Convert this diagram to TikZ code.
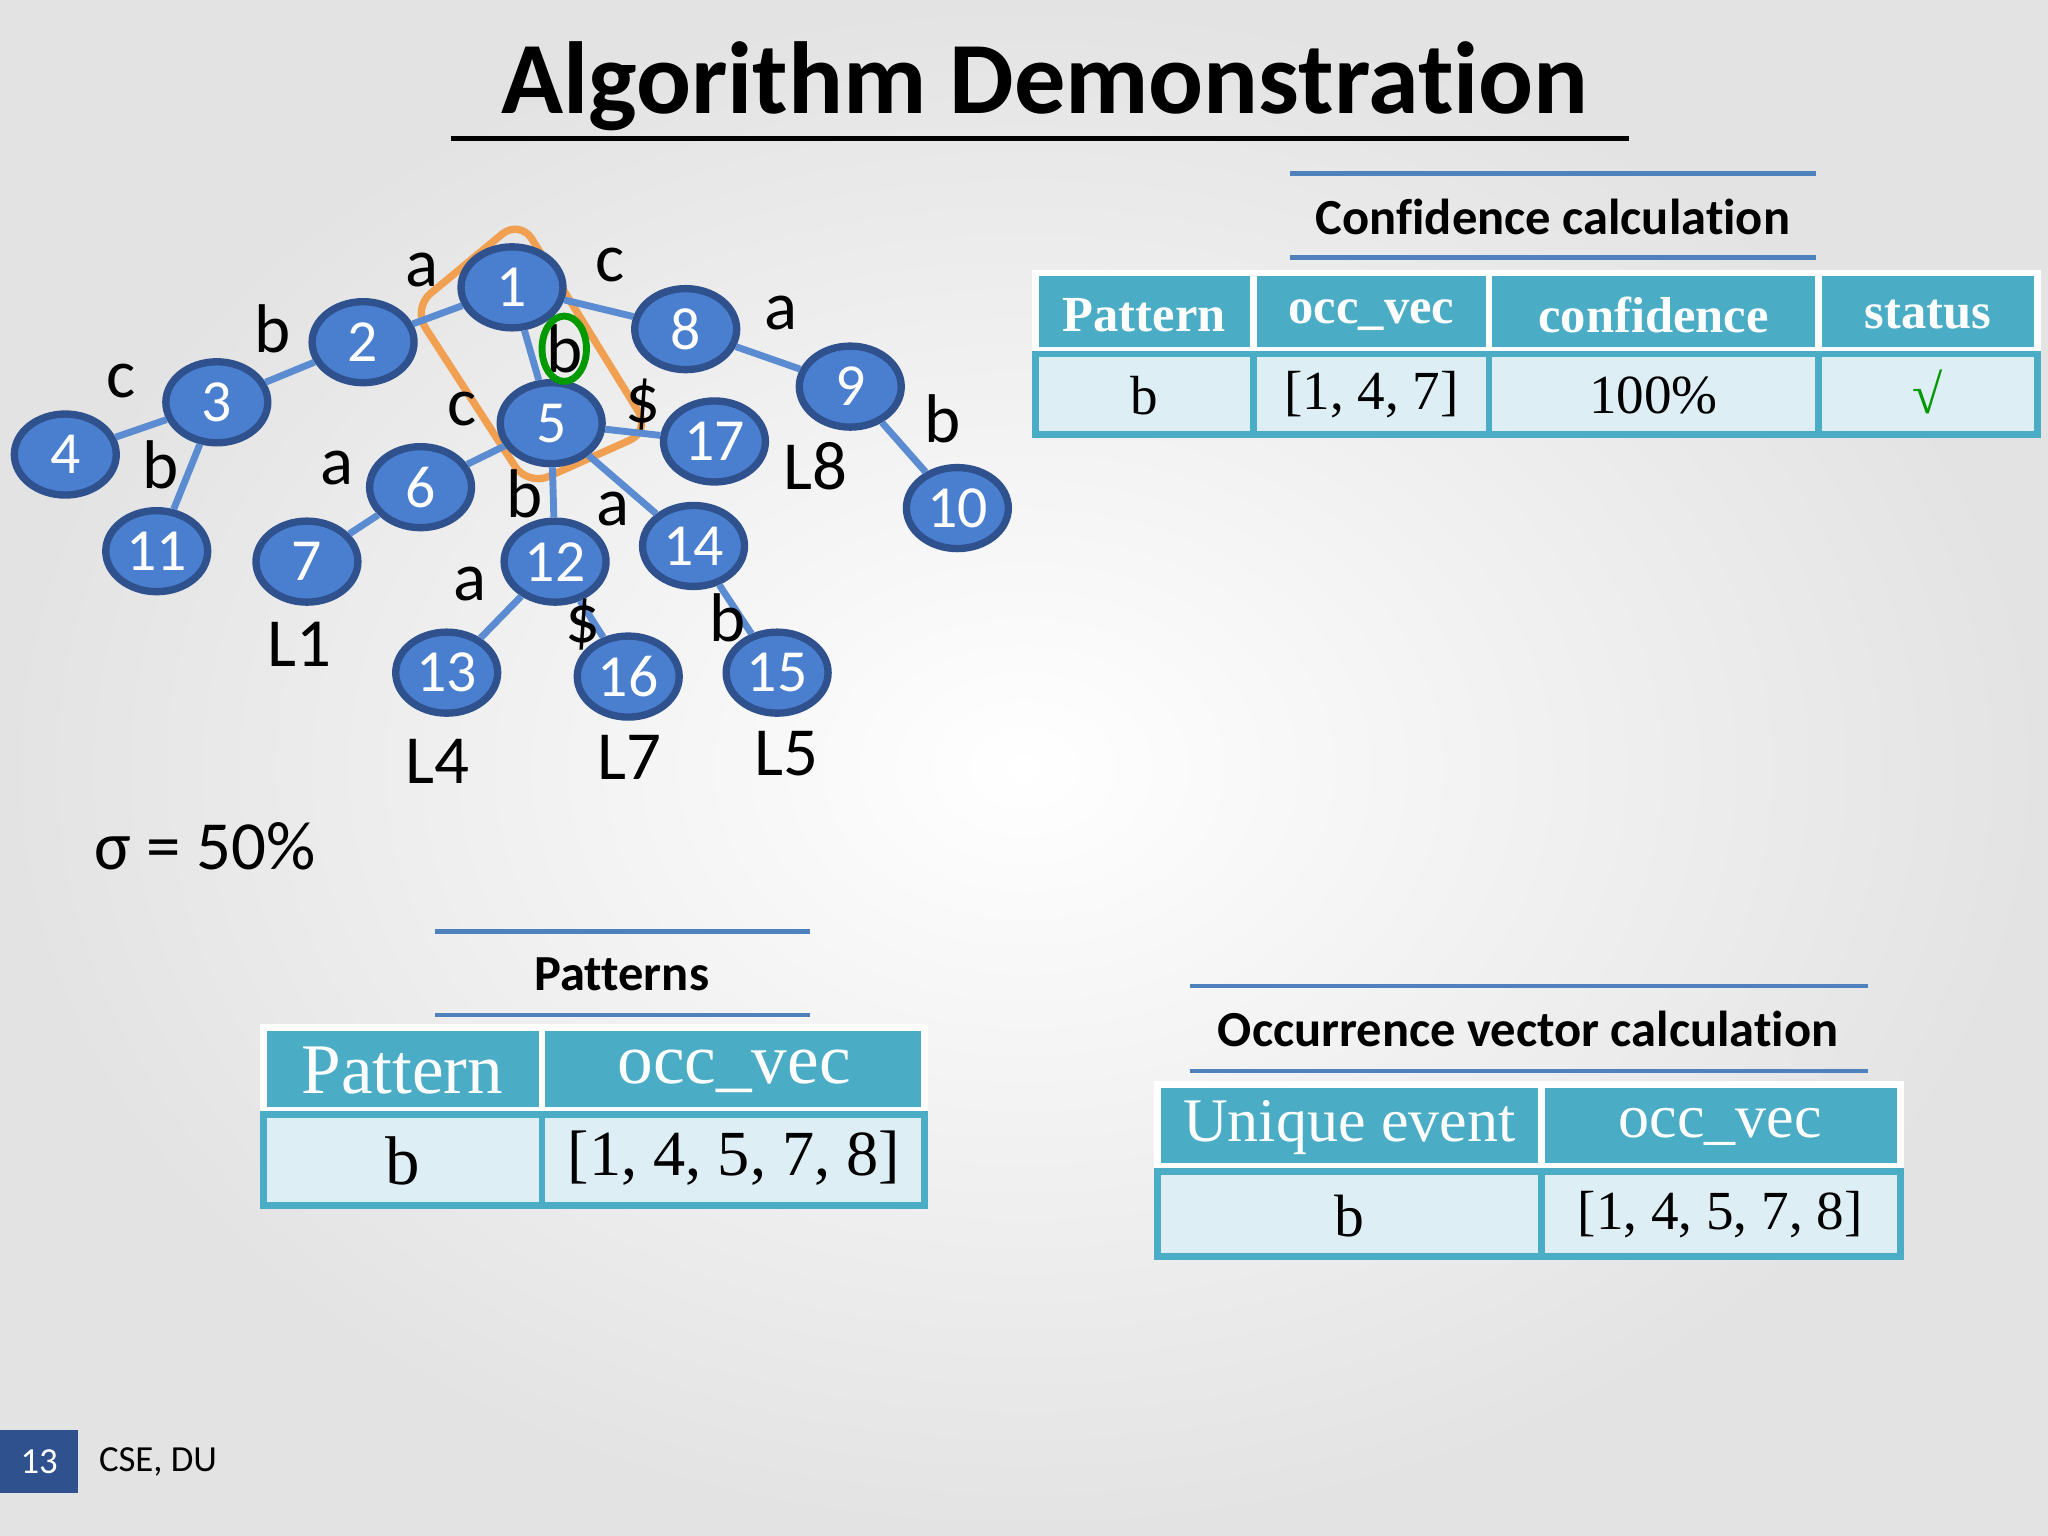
\documentclass[tikz,border=0pt]{standalone}
\usepackage{fontspec}
\setmainfont{Carlito}[Ligatures={NoCommon}]
\newfontfamily\tabfont{Liberation Serif}
\usetikzlibrary{shapes.geometric}
\definecolor{nodeblue}{HTML}{4A7FD0}
\definecolor{nodeborder}{HTML}{2F528F}
\definecolor{edgeblue}{HTML}{5B8BD0}
\definecolor{hdr}{HTML}{4BACC6}
\definecolor{cellbg}{HTML}{DDEEF4}
\definecolor{rule}{HTML}{4F81BD}
\definecolor{orangec}{HTML}{F0A050}
\tikzset{
 tn/.style={ellipse,draw=nodeborder,line width=1.6pt,fill=nodeblue,minimum width=0.78cm,minimum height=0.62cm,inner sep=0pt,text=white,font=\fontsize{13}{13}\selectfont},
 el/.style={font=\fontsize{15}{15}\selectfont},
 edge/.style={draw=edgeblue,line width=1.5pt},
 hcell/.style={fill=hdr,draw=white,line width=1.5pt},
 dcell/.style={fill=cellbg,draw=hdr,line width=1.5pt},
 htext/.style={text=white,font=\tabfont\bfseries\fontsize{11}{11}\selectfont},
 dtext/.style={font=\tabfont\fontsize{12}{12}\selectfont},
 ttl/.style={font=\bfseries\fontsize{11}{11}\selectfont},
}
\begin{document}
\begin{tikzpicture}[x=0.01cm,y=-0.01cm]
\shade[inner color=white,outer color=gray!22] (0,0) rectangle (1568,1176);
\useasboundingbox (0,0) rectangle (1568,1176);
% title
\node (title) at (800,66) {\bfseries\fontsize{22.3}{22.3}\selectfont Algorithm Demonstration};
\draw[line width=1pt] (345,106) -- (1247,106);
% orange frame
\draw[orangec,line width=1.6pt,rounded corners=5pt] (398,168) -- (316,236) -- (404,372) -- (498,330) -- cycle;
% nodes
\node[tn] (n1) at (392,220) {1};
\node[tn] (n2) at (278,262) {2};
\node[tn] (n3) at (166,308) {3};
\node[tn] (n4) at (50,348) {4};
\node[tn] (n5) at (422,324) {5};
\node[tn] (n6) at (322,373) {6};
\node[tn] (n7) at (235,430) {7};
\node[tn] (n8) at (525,252) {8};
\node[tn] (n9) at (651,296) {9};
\node[tn] (n10) at (733,389) {10};
\node[tn] (n11) at (120,422) {11};
\node[tn] (n12) at (425,430) {12};
\node[tn] (n13) at (342,515) {13};
\node[tn] (n14) at (531,418) {14};
\node[tn] (n15) at (595,515) {15};
\node[tn] (n16) at (481,518) {16};
\node[tn] (n17) at (547,338) {17};
\foreach \a/\b in {n1/n2,n2/n3,n3/n4,n3/n11,n1/n8,n8/n9,n9/n10,n1/n5,n5/n6,n6/n7,n5/n17,n5/n12,n5/n14,n12/n13,n12/n16,n14/n15}
  \draw[edge] (\a) -- (\b);
% edge labels
\node[el] (la1) at (323,207) {a};
\node[el] (lc1) at (467,203) {c};
\node[el] (lb2) at (209,252) {b};
\node[el] (lc3) at (93,292) {c};
\node[el] (lb11) at (123,356) {b};
\node[el] (lb5) at (432,267) {b};
\draw[green!60!black,line width=1.5pt] (lb5) ellipse (17 and 25);
\node[el] (lc6) at (354,313) {c};
\node[el] (ld17) at (492,310) {\$};
\node[el] (la7) at (258,358) {a};
\node[el] (lb12) at (402,378) {b};
\node[el] (la14) at (469,390) {a};
\node[el] (la9) at (598,240) {a};
\node[el] (lb10) at (722,321) {b};
\node[el] (la13) at (360,447) {a};
\node[el] (ld16) at (446,478) {\$};
\node[el] (lb15) at (557,473) {b};
\node[el] (L1) at (229,493) {L1};
\node[el] (L4) at (335,583) {L4};
\node[el] (L7) at (482,580) {L7};
\node[el] (L5) at (602,577) {L5};
\node[el] (L8) at (624,357) {L8};
\node[font=\fontsize{15}{15}\selectfont] (sigma) at (157,648) {σ = 50\%};
% Confidence table
\draw[rule,line width=1pt] (988,133) -- (1390,133) (988,197) -- (1390,197);
\node[ttl] (ct) at (1189,166) {Confidence calculation};
\foreach \x/\y in {793/960,960/1140,1140/1392,1392/1560}{
  \draw[hcell] (\x,209) rectangle (\y,268);
  \draw[dcell] (\x,271) rectangle (\y,333);}
\node[htext] (c1) at (876,241) {Pattern};
\node[htext] (c2) at (1050,241) {occ\_vec};
\node[htext] (c3) at (1266,241) {confidence};
\node[htext] (c4) at (1476,241) {status};
\node[dtext] (d1) at (876,303) {b};
\node[dtext] (d2) at (1050,302) {[1, 4, 7]};
\node[dtext] (d3) at (1266,303) {100\%};
\node[dtext,text=green!60!black] (d4) at (1476,300) {√};
% Patterns
\draw[rule,line width=1pt] (333,713) -- (620,713) (333,777) -- (620,777);
\node[ttl] (pt) at (476,746) {Patterns};
\foreach \x/\y in {202/415,415/708}{
  \draw[hcell] (\x,787) rectangle (\y,850);
  \draw[dcell] (\x,853) rectangle (\y,923);}
\node[htext,font=\tabfont\fontsize{15.5}{15.5}\selectfont] (p1) at (308,820) {Pattern};
\node[htext,font=\tabfont\fontsize{15.5}{15.5}\selectfont] (p2) at (562,820) {occ\_vec};
\node[dtext,font=\tabfont\fontsize{15}{15}\selectfont] (p3) at (308,889) {b};
\node[dtext,font=\tabfont\fontsize{14}{14}\selectfont] (p4) at (562,887) {[1, 4, 5, 7, 8]};
% Occurrence vector
\draw[rule,line width=1pt] (911,755) -- (1430,755) (911,820) -- (1430,820);
\node[ttl] (ot) at (1170,788) {Occurrence vector calculation};
\foreach \x/\y in {886/1180,1180/1455}{
  \draw[hcell] (\x,830) rectangle (\y,893);
  \draw[dcell] (\x,897) rectangle (\y,962);}
\node[htext,font=\tabfont\fontsize{13.5}{13.5}\selectfont] (o1) at (1033,863) {Unique event};
\node[htext,font=\tabfont\fontsize{13.5}{13.5}\selectfont] (o2) at (1317,863) {occ\_vec};
\node[dtext,font=\tabfont\fontsize{13}{13}\selectfont] (o3) at (1033,931) {b};
\node[dtext,font=\tabfont\fontsize{12}{12}\selectfont] (o4) at (1317,930) {[1, 4, 5, 7, 8]};
% footer
\fill[nodeborder] (0,1095) rectangle (60,1143);
\node[text=white,font=\fontsize{8}{8}\selectfont] (pg) at (30,1119) {13};
\node[font=\fontsize{8}{8}\selectfont] (cse) at (121,1119) {CSE, DU};
\end{tikzpicture}
\end{document}
